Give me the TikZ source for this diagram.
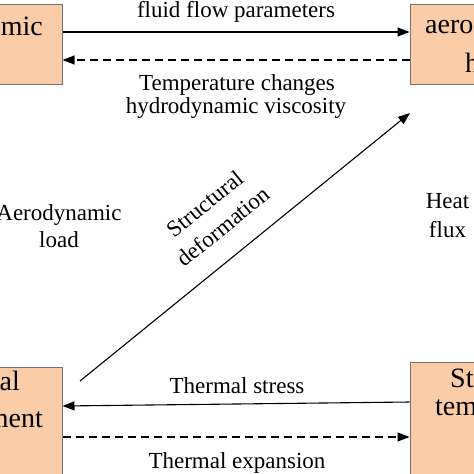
\documentclass[tikz,border=0pt]{standalone}
\usepackage{fontspec}
\setmainfont{Liberation Serif}
\usetikzlibrary{arrows.meta}
\definecolor{boxfill}{RGB}{250,204,168}
\definecolor{boxline}{RGB}{125,112,100}
\begin{document}
\begin{tikzpicture}[x=1pt,y=-1pt,
  blk/.style={draw=boxline,line width=1pt,fill=boxfill,rectangle,inner sep=0pt},
  boxtxt/.style={font=\fontsize{28}{34}\selectfont,inner sep=0pt,text height=19pt,text depth=1pt},
  lbl/.style={font=\fontsize{23}{27}\selectfont,inner sep=0pt,anchor=base,text height=16pt,text depth=4.5pt},
  rlbl/.style={font=\fontsize{23}{29}\selectfont,inner sep=0pt,align=center,anchor=center,rotate=39},
  conn/.style={line width=1.1pt,-{Triangle[length=12pt,width=9pt]}},
  dconn/.style={conn,dash pattern=on 8pt off 5pt}]
\useasboundingbox (0,0) rectangle (474,474);
\clip (0,0) rectangle (474,474);
% boxes (partly outside the frame)
\node[blk,minimum width=142pt,minimum height=80pt] (tl) at (-9,44) {};
\node[blk,minimum width=150pt,minimum height=80pt] (tr) at (485,44) {};
\node[blk,minimum width=142pt,minimum height=153pt] (bl) at (-9,443.5) {};
\node[blk,minimum width=150pt,minimum height=158pt] (br) at (485,441) {};
% box texts (visible fragments)
\node[boxtxt,anchor=base east] (tlt) at (43,35) {mic};
\node[boxtxt,anchor=base west] (trt1) at (425,33) {aero};
\node[boxtxt,anchor=base west] (trt2) at (465,72) {h};
\node[boxtxt,anchor=base east] (blt1) at (20,390) {al};
\node[boxtxt,anchor=base east] (blt2) at (43,427) {ment};
\node[boxtxt,anchor=base west] (brt1) at (450,387) {St};
\node[boxtxt,anchor=base west] (brt2) at (435,415) {tem};
% connector end points
\coordinate (a1) at (tl.east |- 0,32);
\coordinate (a2) at (tr.west |- 0,32);
\coordinate (b1) at (tr.west |- 0,60);
\coordinate (b2) at (tl.east |- 0,60);
\coordinate (c1) at (br.west |- 0,402);
\coordinate (c2) at (bl.east |- 0,406);
\coordinate (d1) at (bl.east |- 0,437);
\coordinate (d2) at (br.west |- 0,437);
\coordinate (e1) at (80,381);
\coordinate (e2) at (410,113);
% connectors
\draw[conn] (a1) -- (a2);
\draw[dconn] (b1) -- (b2);
\draw[conn] (c1) -- (c2);
\draw[dconn] (d1) -- (d2);
\draw[conn] (e1) -- (e2);
% labels
\node[lbl] (l1) at (236,17) {fluid flow parameters};
\node[lbl] (l2a) at (237,90) {Temperature changes};
\node[lbl] (l2b) at (236,113) {hydrodynamic viscosity};
\node[lbl] (l3a) at (59,220) {Aerodynamic};
\node[lbl] (l3b) at (59,247) {load};
\node[lbl] (l4a) at (447.5,208) {Heat};
\node[lbl] (l4b) at (447.5,237) {flux};
\node[lbl] (l5) at (237,393) {Thermal stress};
\node[lbl] (l6) at (237,468) {Thermal expansion};
\node[rlbl] (l7) at (214,215) {Structural\\deformation};
\end{tikzpicture}
\end{document}
